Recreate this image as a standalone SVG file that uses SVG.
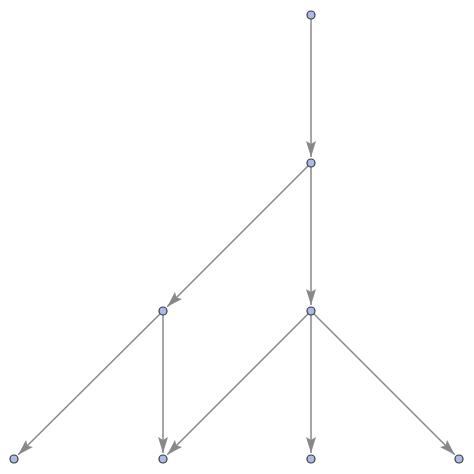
<svg xmlns="http://www.w3.org/2000/svg" width="474" height="474" viewBox="0 0 474 474">
<style>
.e{stroke:#888888;stroke-width:1.5;fill:none;marker-end:url(#ah)}
.n{fill:#abbbe8;stroke:#3a3a3a;stroke-width:1.2}
</style>
<defs>
<marker id="ah" viewBox="0 0 16 10" refX="16" refY="5" markerWidth="16" markerHeight="10" markerUnits="userSpaceOnUse" orient="auto">
<path d="M0,0 L16,5 L0,10 L3,5 Z" fill="#888888"/>
</marker>
</defs>
<rect width="474" height="474" fill="#ffffff"/>
<g id="edges">
<line class="e" x1="311" y1="15" x2="311" y2="157"/>
<line class="e" x1="311" y1="163" x2="167.2" y2="306.8"/>
<line class="e" x1="311" y1="163" x2="311" y2="305"/>
<line class="e" x1="163" y1="311" x2="18.2" y2="454.8"/>
<line class="e" x1="163" y1="311" x2="163" y2="453"/>
<line class="e" x1="311" y1="311" x2="167.2" y2="454.8"/>
<line class="e" x1="311" y1="311" x2="311" y2="453"/>
<line class="e" x1="311" y1="311" x2="454.8" y2="454.8"/>
</g>
<g id="n1"><circle class="n" cx="311" cy="15" r="4"/></g>
<g id="n2"><circle class="n" cx="311" cy="163" r="4"/></g>
<g id="n3"><circle class="n" cx="163" cy="311" r="4"/></g>
<g id="n4"><circle class="n" cx="311" cy="311" r="4"/></g>
<g id="n5"><circle class="n" cx="14" cy="459" r="4"/></g>
<g id="n6"><circle class="n" cx="163" cy="459" r="4"/></g>
<g id="n7"><circle class="n" cx="311" cy="459" r="4"/></g>
<g id="n8"><circle class="n" cx="459" cy="459" r="4"/></g>
</svg>
